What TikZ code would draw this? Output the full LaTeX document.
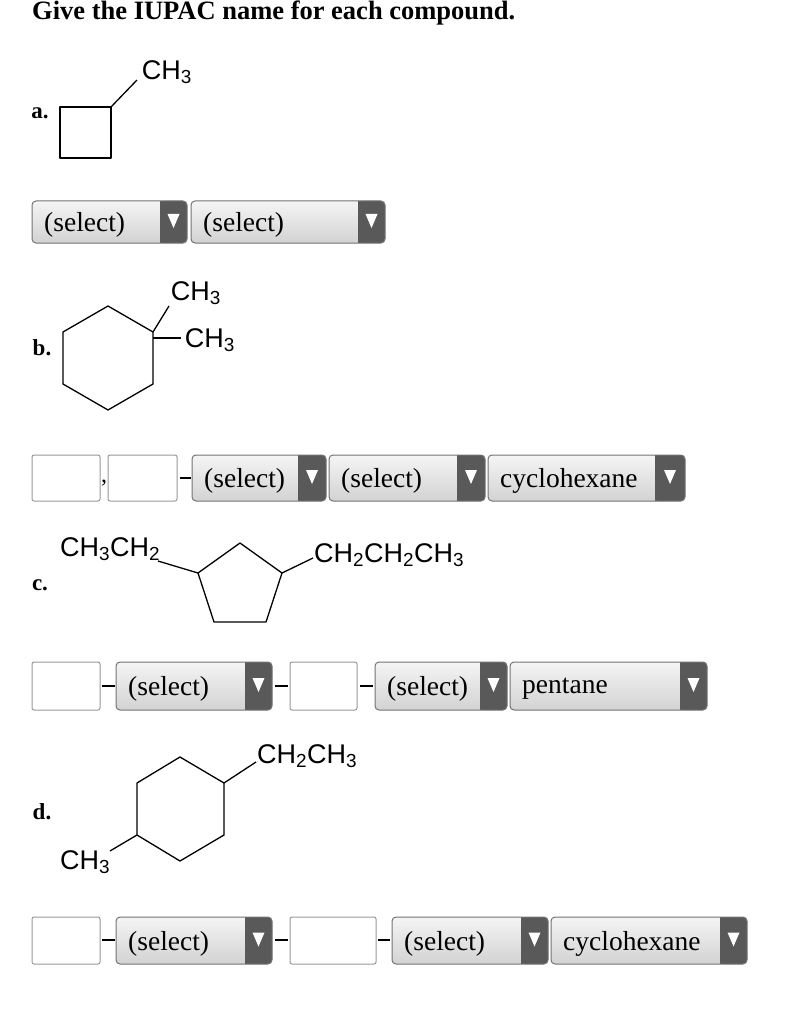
\documentclass[tikz,border=0pt]{standalone}
\usepackage{fontspec}
\setmainfont{Liberation Serif}
\setsansfont{Liberation Sans}
\tikzset{
 bond/.style={line width=1.3pt,line join=round},
 chem/.style={font=\sffamily\fontsize{27}{27}\selectfont,inner sep=0pt},
 lbl/.style={font=\bfseries\fontsize{23}{23}\selectfont,inner sep=0pt},
 seltxt/.style={font=\fontsize{27.5}{27.5}\selectfont,inner sep=0pt,anchor=west},
 inbox/.style={draw=gray!80,line width=1pt,rounded corners=2pt,fill=white},
 dashln/.style={line width=1.2pt}
}
\newcommand\mysel[6]{% x1 x2 y1 y2 darkx text
 \shade[top color=gray!8,bottom color=gray!35,rounded corners=4pt] (#1,#3) rectangle (#2,#4);
 \fill[black!65,rounded corners=4pt] (#5,#3) rectangle (#2,#4);
 \fill[black!65] (#5,#3) rectangle (#5+6,#4);
 \draw[black!55,line width=1pt,rounded corners=4pt] (#1,#3) rectangle (#2,#4);
 \fill[white] ({(#5+#2)/2-6},{(#3+#4)/2-8}) -- ({(#5+#2)/2+6},{(#3+#4)/2-8}) -- ({(#5+#2)/2},{(#3+#4)/2+6}) -- cycle;
 \node[seltxt] at (#1+12,{(#3+#4)/2+3}) {#6};
}
\begin{document}
\begin{tikzpicture}[x=1pt,y=-1pt]
\useasboundingbox (0,0) rectangle (799,1024);
\node[anchor=west,font=\bfseries\fontsize{26.5}{26.5}\selectfont,inner sep=0pt] (title) at (32,13) {Give the IUPAC name for each compound.};
% a
\node[lbl] (la) at (40,113) {a.};
\draw[bond] (60,107) rectangle (111,158);
\draw[bond] (111,107) -- (137,80);
\node[chem] (a1) at (167,72) {CH\textsubscript{3}};
\mysel{32}{187}{201}{243}{160}{(select)}
\mysel{191}{385}{201}{243}{358}{(select)}
% b
\node[lbl] (lb) at (42,348) {b.};
\draw[bond] (108,306) -- (153,332) -- (153,384) -- (108,410) -- (63,384) -- (63,332) -- cycle;
\draw[bond] (153,332) -- (169,306);
\draw[bond] (153,338) -- (181,338);
\node[chem] (b1) at (196,293) {CH\textsubscript{3}};
\node[chem] (b2) at (210,340) {CH\textsubscript{3}};
\draw[inbox] (32,455) rectangle (100,501);
\node[font=\fontsize{24}{24}\selectfont] (cm) at (104,483) {,};
\draw[inbox] (108,455) rectangle (177,501);
\draw[dashln] (180,478) -- (191,478);
\mysel{192}{326}{455}{501}{298}{(select)}
\mysel{329}{485}{455}{501}{457}{(select)}
\mysel{488}{685}{455}{501}{655}{cyclohexane}
% c
\node[lbl] (lc) at (40,585) {c.};
\node[chem,anchor=west] (c1) at (60,549) {CH\textsubscript{3}CH\textsubscript{2}};
\draw[bond] (240,543) -- (282,573) -- (266,622) -- (214,622) -- (198,573) -- cycle;
\draw[bond] (158,561) -- (198,573);
\draw[bond] (282,573) -- (313,558);
\node[chem,anchor=west] (c2) at (314,555) {CH\textsubscript{2}CH\textsubscript{2}CH\textsubscript{3}};
\draw[inbox] (32,662) rectangle (100,710);
\draw[dashln] (102,686) -- (115,686);
\mysel{116}{272}{662}{710}{245}{(select)}
\draw[dashln] (275,686) -- (288,686);
\draw[inbox] (290,662) rectangle (357,710);
\draw[dashln] (360,686) -- (373,686);
\mysel{375}{507}{662}{710}{480}{(select)}
\mysel{510}{707}{662}{710}{680}{pentane}
% d
\node[lbl] (ld) at (42,812) {d.};
\draw[bond] (180,757) -- (224,783) -- (224,835) -- (180,861) -- (137,835) -- (137,783) -- cycle;
\draw[bond] (224,783) -- (256,762);
\draw[bond] (137,835) -- (110,851);
\node[chem,anchor=west] (d1) at (257,756) {CH\textsubscript{2}CH\textsubscript{3}};
\node[chem,anchor=west] (d2) at (60,862) {CH\textsubscript{3}};
\draw[inbox] (32,917) rectangle (100,964);
\draw[dashln] (102,940) -- (115,940);
\mysel{116}{272}{917}{964}{245}{(select)}
\draw[dashln] (275,940) -- (288,940);
\draw[inbox] (290,917) rectangle (376,964);
\draw[dashln] (378,940) -- (390,940);
\mysel{392}{548}{917}{964}{521}{(select)}
\mysel{551}{747}{917}{964}{720}{cyclohexane}
\end{tikzpicture}
\end{document}
